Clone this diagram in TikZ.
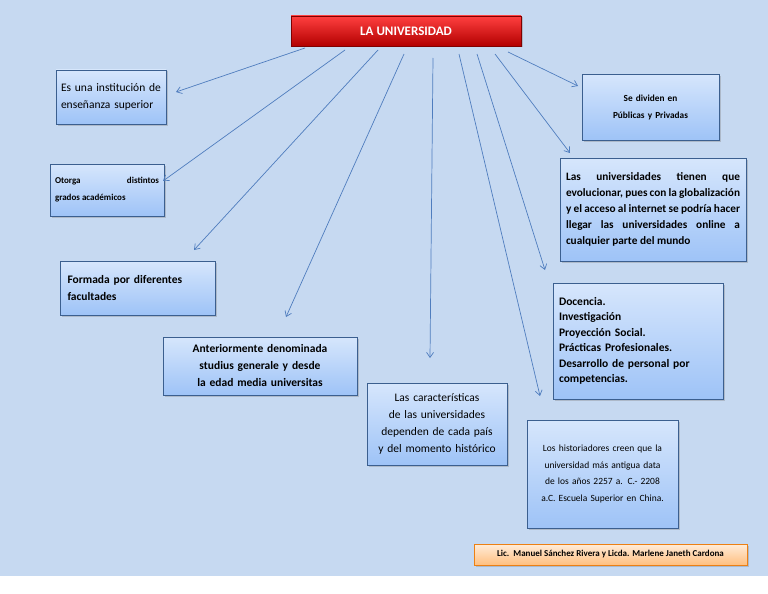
\documentclass[tikz,border=0pt]{standalone}
\usepackage{fontspec}
\setmainfont{Carlito}
\usetikzlibrary{shadows,arrows.meta}
\definecolor{bg}{HTML}{C6D9F1}
\definecolor{bord}{HTML}{3B5F8F}
\definecolor{arr}{HTML}{4F7DBE}
\definecolor{bxtop}{HTML}{D6E6FC}
\definecolor{bxbot}{HTML}{9EC3F7}
\tikzset{
 x=1pt,y=-1pt,
 box/.style={draw=bord,line width=0.8pt,top color=bxtop,bottom color=bxbot,
   drop shadow={shadow xshift=1.5pt,shadow yshift=-1.5pt,opacity=0.35},
   inner sep=0pt},
 con/.style={arr,line width=0.7pt,-{Straight Barb[length=5pt,width=7pt]}},
 txt/.style={inner sep=0pt,text=black},
}
\begin{document}
\hyphenpenalty=10000 \exhyphenpenalty=10000
\begin{tikzpicture}
\useasboundingbox (0,0) rectangle (768,594);
\fill[bg] (0,0) rectangle (768,576);
\fill[white] (0,576) rectangle (768,594);
\node[draw=red!50!black,line width=0.5pt,top color=red!75!white,bottom color=red!70!black,
  drop shadow={shadow xshift=1.5pt,shadow yshift=-1.5pt,opacity=0.4},
  minimum width=230pt,minimum height=30pt,font=\bfseries\fontsize{13}{15}\selectfont,text=white] (t) at (406,31) {LA UNIVERSIDAD};
\node[box,minimum width=110pt,minimum height=54pt] (b1) at (111,97) {};
\node[txt,text width=100pt,align=left,font=\fontsize{11.5}{16.5}\selectfont] at (b1) {Es una institución de enseñanza superior};
\node[box,minimum width=114pt,minimum height=52pt] (b2) at (107,190) {};
\node[txt,text width=104pt,align=justify,font=\bfseries\fontsize{9}{17}\selectfont] at (b2) {Otorga\hfill distintos\par grados académicos};
\node[box,minimum width=155pt,minimum height=54pt] (b3) at (137.5,288) {};
\node[txt,text width=140pt,align=left,font=\bfseries\fontsize{11.5}{16.5}\selectfont] at (b3) {Formada por diferentes facultades};
\node[box,minimum width=194pt,minimum height=58pt] (b4) at (260,366) {};
\node[txt,text width=186pt,align=center,font=\bfseries\fontsize{11.5}{17}\selectfont] at (b4) {Anteriormente denominada studius generale y desde la edad media universitas};
\node[box,minimum width=140pt,minimum height=82pt] (b5) at (437,424) {};
\node[txt,text width=134pt,align=center,font=\fontsize{11.5}{17}\selectfont] at (b5) {Las características de las universidades dependen de cada país y del momento histórico};
\node[box,minimum width=151pt,minimum height=108pt] (b6) at (602.5,474) {};
\node[txt,text width=140pt,align=center,font=\fontsize{9.5}{16.5}\selectfont] at (b6) {Los historiadores creen que la universidad más antigua\ data de los años 2257 a. C.- 2208 a.C. Escuela Superior en China.};
\node[box,minimum width=170pt,minimum height=116pt] (b7) at (638,341) {};
\node[txt,text width=158pt,align=left,font=\bfseries\fontsize{11.5}{15.5}\selectfont] at (b7) {Docencia.\\Investigación\\Proyección Social.\\Prácticas Profesionales.\\Desarrollo de personal por competencias.};
\node[box,minimum width=186pt,minimum height=103pt] (b8) at (653,209.5) {};
\node[txt,text width=174pt,align=justify,font=\bfseries\fontsize{11.3}{16}\selectfont] at (b8) {Las universidades tienen que evolucionar, pues con la globalización y el acceso al internet se podría hacer llegar las universidades online a cualquier parte del mundo};
\node[box,minimum width=137pt,minimum height=66pt] (b9) at (650.5,107) {};
\node[txt,text width=120pt,align=center,font=\bfseries\fontsize{9.3}{17}\selectfont] at (b9) {Se dividen en Públicas y Privadas};
\node[draw=orange!70!brown,line width=0.5pt,top color=orange!15!white,bottom color=orange!50!white,
  drop shadow={shadow xshift=1.5pt,shadow yshift=-1.5pt,opacity=0.35},
  minimum width=273pt,minimum height=21pt,font=\bfseries\fontsize{9}{10}\selectfont] (f) at (610.5,554.5) {Lic.\ \ Manuel Sánchez Rivera y Licda. Marlene Janeth Cardona};
\coordinate (s1) at (305,48); \coordinate (e1) at (176,92);
\coordinate (s2) at (345,50); \coordinate (e2) at (163,181);
\coordinate (s3) at (378,50); \coordinate (e3) at (194,250);
\coordinate (s4) at (404,54); \coordinate (e4) at (286,317);
\coordinate (s5) at (433,58); \coordinate (e5) at (430,358);
\coordinate (s6) at (459,54); \coordinate (e6) at (540,396);
\coordinate (s7) at (477,54); \coordinate (e7) at (545,270);
\coordinate (s8) at (495,54); \coordinate (e8) at (570,153);
\coordinate (s9) at (508,52); \coordinate (e9) at (578,86);
\foreach \i in {1,...,9}{\draw[con] (s\i) -- (e\i);}
\end{tikzpicture}
\end{document}
